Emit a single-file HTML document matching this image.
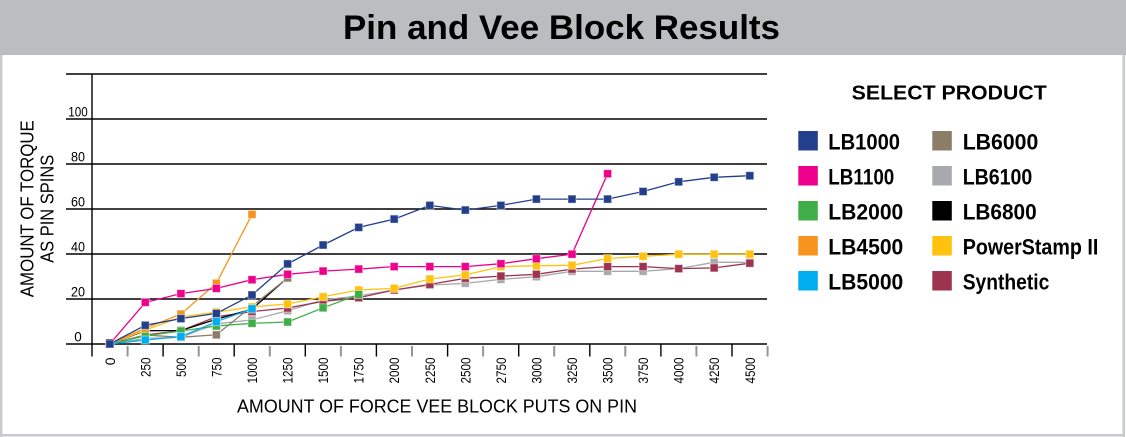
<!DOCTYPE html>
<html>
<head>
<meta charset="utf-8">
<style>
html,body{margin:0;padding:0;background:#fff;}
svg{display:block;}
text{font-family:"Liberation Sans",Arial,sans-serif;fill:#000;}
</style>
</head>
<body>
<svg width="1126" height="437" viewBox="0 0 1126 437" xmlns="http://www.w3.org/2000/svg">
<rect x="0" y="0" width="1126" height="437" fill="#fff"/>
<rect x="0" y="0" width="1126" height="55" fill="#bcbdc0"/>
<rect x="0" y="55" width="2.5" height="382" fill="#c9cacc"/>
<rect x="1122.5" y="55" width="2.5" height="382" fill="#c9cacc"/>
<rect x="0" y="434" width="1125" height="2.5" fill="#c9cacc"/>

<text x="343" y="39" font-size="34" font-weight="bold" textLength="437" lengthAdjust="spacingAndGlyphs">Pin and Vee Block Results</text>

<!-- gridlines -->
<g stroke="#000" stroke-width="1.4">
<line x1="66" y1="74" x2="767" y2="74"/>
<line x1="66" y1="119" x2="767" y2="119"/>
<line x1="66" y1="164" x2="767" y2="164"/>
<line x1="66" y1="209" x2="767" y2="209"/>
<line x1="66" y1="254" x2="767" y2="254"/>
<line x1="66" y1="299" x2="767" y2="299"/>
<line x1="66" y1="344" x2="767" y2="344"/>
<line x1="92" y1="74" x2="92" y2="356.5"/>
<line x1="163.1" y1="344" x2="163.1" y2="356.5"/>
<line x1="234.2" y1="344" x2="234.2" y2="356.5"/>
<line x1="305.3" y1="344" x2="305.3" y2="356.5"/>
<line x1="376.4" y1="344" x2="376.4" y2="356.5"/>
<line x1="447.6" y1="344" x2="447.6" y2="356.5"/>
<line x1="518.7" y1="344" x2="518.7" y2="356.5"/>
<line x1="589.8" y1="344" x2="589.8" y2="356.5"/>
<line x1="660.9" y1="344" x2="660.9" y2="356.5"/>
<line x1="732.0" y1="344" x2="732.0" y2="356.5"/>
</g>
<g stroke="#939598" stroke-width="2">
<line x1="127.6" y1="346" x2="127.6" y2="356.5"/>
<line x1="198.7" y1="346" x2="198.7" y2="356.5"/>
<line x1="269.8" y1="346" x2="269.8" y2="356.5"/>
<line x1="340.9" y1="346" x2="340.9" y2="356.5"/>
<line x1="412.0" y1="346" x2="412.0" y2="356.5"/>
<line x1="483.1" y1="346" x2="483.1" y2="356.5"/>
<line x1="554.2" y1="346" x2="554.2" y2="356.5"/>
<line x1="625.3" y1="346" x2="625.3" y2="356.5"/>
<line x1="696.4" y1="346" x2="696.4" y2="356.5"/>
<line x1="767.6" y1="346" x2="767.6" y2="356.5"/>
</g>

<!-- y tick labels -->
<g font-size="13.5" text-anchor="middle">
<text x="78" y="341.5">0</text>
<text x="78" y="296.5" textLength="14" lengthAdjust="spacingAndGlyphs">20</text>
<text x="78" y="251.5" textLength="14" lengthAdjust="spacingAndGlyphs">40</text>
<text x="78" y="206.5" textLength="14" lengthAdjust="spacingAndGlyphs">60</text>
<text x="78" y="161.5" textLength="14" lengthAdjust="spacingAndGlyphs">80</text>
<text x="78" y="116.5" textLength="19.5" lengthAdjust="spacingAndGlyphs">100</text>
</g>

<!-- x tick labels -->
<g font-size="14" text-anchor="end">
<text transform="translate(114.8,357.5) rotate(-90)">0</text>
<text transform="translate(150.3,357.5) rotate(-90)" textLength="19.5" lengthAdjust="spacingAndGlyphs">250</text>
<text transform="translate(185.9,357.5) rotate(-90)" textLength="19.5" lengthAdjust="spacingAndGlyphs">500</text>
<text transform="translate(221.4,357.5) rotate(-90)" textLength="19.5" lengthAdjust="spacingAndGlyphs">750</text>
<text transform="translate(257.0,357.5) rotate(-90)" textLength="26" lengthAdjust="spacingAndGlyphs">1000</text>
<text transform="translate(292.6,357.5) rotate(-90)" textLength="26" lengthAdjust="spacingAndGlyphs">1250</text>
<text transform="translate(328.1,357.5) rotate(-90)" textLength="26" lengthAdjust="spacingAndGlyphs">1500</text>
<text transform="translate(363.7,357.5) rotate(-90)" textLength="26" lengthAdjust="spacingAndGlyphs">1750</text>
<text transform="translate(399.2,357.5) rotate(-90)" textLength="26" lengthAdjust="spacingAndGlyphs">2000</text>
<text transform="translate(434.8,357.5) rotate(-90)" textLength="26" lengthAdjust="spacingAndGlyphs">2250</text>
<text transform="translate(470.3,357.5) rotate(-90)" textLength="26" lengthAdjust="spacingAndGlyphs">2500</text>
<text transform="translate(505.9,357.5) rotate(-90)" textLength="26" lengthAdjust="spacingAndGlyphs">2750</text>
<text transform="translate(541.4,357.5) rotate(-90)" textLength="26" lengthAdjust="spacingAndGlyphs">3000</text>
<text transform="translate(577.0,357.5) rotate(-90)" textLength="26" lengthAdjust="spacingAndGlyphs">3250</text>
<text transform="translate(612.6,357.5) rotate(-90)" textLength="26" lengthAdjust="spacingAndGlyphs">3500</text>
<text transform="translate(648.1,357.5) rotate(-90)" textLength="26" lengthAdjust="spacingAndGlyphs">3750</text>
<text transform="translate(683.7,357.5) rotate(-90)" textLength="26" lengthAdjust="spacingAndGlyphs">4000</text>
<text transform="translate(719.2,357.5) rotate(-90)" textLength="26" lengthAdjust="spacingAndGlyphs">4250</text>
<text transform="translate(754.8,357.5) rotate(-90)" textLength="26" lengthAdjust="spacingAndGlyphs">4500</text>
</g>

<!-- axis titles -->
<text x="237" y="412.7" font-size="18" textLength="400" lengthAdjust="spacingAndGlyphs">AMOUNT OF FORCE VEE BLOCK PUTS ON PIN</text>
<text transform="translate(33.3,208.7) rotate(-90)" font-size="18" text-anchor="middle" textLength="177" lengthAdjust="spacingAndGlyphs">AMOUNT OF TORQUE</text>
<text transform="translate(53.3,208.8) rotate(-90)" font-size="18" text-anchor="middle" textLength="108" lengthAdjust="spacingAndGlyphs">AS PIN SPINS</text>

<!-- series -->
<polyline fill="none" stroke-width="1.3" stroke="#a7a9ac" points="109.8,344 145.3,338.4 180.9,337.3 216.4,323.8 252.0,319.9 287.6,310.7 323.1,299.9 358.7,295.9 394.2,290.0 429.8,285.1 465.3,283.3 500.9,279.4 536.4,276.7 572.0,271.3 607.6,271.3 643.1,271.3 678.7,268.6 714.2,262.3 749.8,262.3"/>
<g fill="#a7a9ac" stroke="rgba(255,255,255,0.45)" stroke-width="1">
<rect x="105.8" y="340" width="8" height="8"/><rect x="141.3" y="334.4" width="8" height="8"/><rect x="176.9" y="333.3" width="8" height="8"/><rect x="212.4" y="319.8" width="8" height="8"/><rect x="248.0" y="315.9" width="8" height="8"/><rect x="283.6" y="306.7" width="8" height="8"/><rect x="319.1" y="295.9" width="8" height="8"/><rect x="354.7" y="291.9" width="8" height="8"/><rect x="390.2" y="286.0" width="8" height="8"/><rect x="425.8" y="281.1" width="8" height="8"/><rect x="461.3" y="279.3" width="8" height="8"/><rect x="496.9" y="275.4" width="8" height="8"/><rect x="532.4" y="272.7" width="8" height="8"/><rect x="568.0" y="267.3" width="8" height="8"/><rect x="603.6" y="267.3" width="8" height="8"/><rect x="639.1" y="267.3" width="8" height="8"/><rect x="674.7" y="264.6" width="8" height="8"/><rect x="710.2" y="258.3" width="8" height="8"/><rect x="745.8" y="258.3" width="8" height="8"/>
</g>

<!-- Synthetic -->
<polyline fill="none" stroke-width="1.3" stroke="#9c3450" points="109.8,344 145.3,335.0 180.9,330.7 216.4,316.8 252.0,311.6 287.6,308.0 323.1,301.3 358.7,297.7 394.2,290.0 429.8,284.4 465.3,278.3 500.9,276.1 536.4,274.3 572.0,269.1 607.6,266.6 643.1,266.6 678.7,268.6 714.2,267.9 749.8,263.2"/>
<g fill="#9c3450" stroke="rgba(255,255,255,0.45)" stroke-width="1">
<rect x="105.8" y="340" width="8" height="8"/><rect x="141.3" y="331.0" width="8" height="8"/><rect x="176.9" y="326.7" width="8" height="8"/><rect x="212.4" y="312.8" width="8" height="8"/><rect x="248.0" y="307.6" width="8" height="8"/><rect x="283.6" y="304.0" width="8" height="8"/><rect x="319.1" y="297.3" width="8" height="8"/><rect x="354.7" y="293.7" width="8" height="8"/><rect x="390.2" y="286.0" width="8" height="8"/><rect x="425.8" y="280.4" width="8" height="8"/><rect x="461.3" y="274.3" width="8" height="8"/><rect x="496.9" y="272.1" width="8" height="8"/><rect x="532.4" y="270.3" width="8" height="8"/><rect x="568.0" y="265.1" width="8" height="8"/><rect x="603.6" y="262.6" width="8" height="8"/><rect x="639.1" y="262.6" width="8" height="8"/><rect x="674.7" y="264.6" width="8" height="8"/><rect x="710.2" y="263.9" width="8" height="8"/><rect x="745.8" y="259.2" width="8" height="8"/>
</g>

<!-- LB6800 -->
<polyline fill="none" stroke-width="1.3" stroke="#000" points="109.8,344 145.3,330.7 180.9,330.5 216.4,319.3 252.0,309.1 287.6,277.6"/>
<g fill="#000" stroke="rgba(255,255,255,0.45)" stroke-width="1">
<rect x="105.8" y="339" width="8" height="8"/><rect x="141.3" y="326.7" width="8" height="8"/><rect x="176.9" y="326.5" width="8" height="8"/><rect x="212.4" y="315.3" width="8" height="8"/><rect x="248.0" y="305.1" width="8" height="8"/><rect x="283.6" y="273.6" width="8" height="8"/>
</g>

<!-- LB6000 -->
<polyline fill="none" stroke-width="1.3" stroke="#8b7d68" points="109.8,344 145.3,335.0 180.9,337.3 216.4,334.8 287.6,277.9"/>
<g fill="#8b7d68" stroke="rgba(255,255,255,0.45)" stroke-width="1">
<rect x="141.3" y="331.0" width="8" height="8"/><rect x="176.9" y="333.3" width="8" height="8"/><rect x="212.4" y="330.8" width="8" height="8"/><rect x="283.6" y="273.9" width="8" height="8"/>
</g>

<!-- PowerStamp II -->
<polyline fill="none" stroke-width="1.3" stroke="#ffc20e" points="109.8,344 145.3,330.1 180.9,317.0 216.4,312.1 252.0,306.9 287.6,304.0 323.1,296.8 358.7,290.0 394.2,288.4 429.8,279.0 465.3,274.9 500.9,266.6 536.4,265.7 572.0,265.3 607.6,258.5 643.1,256.3 678.7,254.2 714.2,254.2 749.8,254.2"/>
<g fill="#ffc20e" stroke="rgba(255,255,255,0.45)" stroke-width="1">
<rect x="141.3" y="326.1" width="8" height="8"/><rect x="176.9" y="313.0" width="8" height="8"/><rect x="212.4" y="308.1" width="8" height="8"/><rect x="248.0" y="302.9" width="8" height="8"/><rect x="283.6" y="300.0" width="8" height="8"/><rect x="319.1" y="292.8" width="8" height="8"/><rect x="354.7" y="286.0" width="8" height="8"/><rect x="390.2" y="284.4" width="8" height="8"/><rect x="425.8" y="275.0" width="8" height="8"/><rect x="461.3" y="270.9" width="8" height="8"/><rect x="496.9" y="262.6" width="8" height="8"/><rect x="532.4" y="261.7" width="8" height="8"/><rect x="568.0" y="261.3" width="8" height="8"/><rect x="603.6" y="254.5" width="8" height="8"/><rect x="639.1" y="252.3" width="8" height="8"/><rect x="674.7" y="250.2" width="8" height="8"/><rect x="710.2" y="250.2" width="8" height="8"/><rect x="745.8" y="250.2" width="8" height="8"/>
</g>

<!-- LB2000 -->
<polyline fill="none" stroke-width="1.3" stroke="#3fae49" points="109.8,344 145.3,335.9 180.9,331.0 216.4,326.0 252.0,323.3 287.6,322.0 323.1,307.8 358.7,294.5"/>
<g fill="#3fae49" stroke="rgba(255,255,255,0.45)" stroke-width="1">
<rect x="141.3" y="331.9" width="8" height="8"/><rect x="176.9" y="327.0" width="8" height="8"/><rect x="212.4" y="322.0" width="8" height="8"/><rect x="248.0" y="319.3" width="8" height="8"/><rect x="283.6" y="318.0" width="8" height="8"/><rect x="319.1" y="303.8" width="8" height="8"/><rect x="354.7" y="290.5" width="8" height="8"/>
</g>

<!-- LB5000 -->
<polyline fill="none" stroke-width="1.3" stroke="#00aeef" points="109.8,344 145.3,340.0 180.9,336.6 216.4,321.7 252.0,308.7"/>
<g fill="#00aeef" stroke="rgba(255,255,255,0.45)" stroke-width="1">
<rect x="141.3" y="336.0" width="8" height="8"/><rect x="176.9" y="332.6" width="8" height="8"/><rect x="212.4" y="317.7" width="8" height="8"/><rect x="248.0" y="304.7" width="8" height="8"/>
</g>

<!-- LB4500 -->
<polyline fill="none" stroke-width="1.3" stroke="#f7941d" points="109.8,344 145.3,328.3 180.9,314.1 216.4,283.3 252.0,214.4"/>
<g fill="#f7941d" stroke="rgba(255,255,255,0.45)" stroke-width="1">
<rect x="141.3" y="324.3" width="8" height="8"/><rect x="176.9" y="310.1" width="8" height="8"/><rect x="212.4" y="279.3" width="8" height="8"/><rect x="248.0" y="210.4" width="8" height="8"/>
</g>

<!-- LB1100 -->
<polyline fill="none" stroke-width="1.3" stroke="#ec008c" points="109.8,344 145.3,302.4 180.9,293.6 216.4,288.4 252.0,279.7 287.6,274.3 323.1,271.1 358.7,269.1 394.2,266.6 429.8,266.6 465.3,266.6 500.9,263.7 536.4,258.7 572.0,254.2 607.6,173.7"/>
<g fill="#ec008c" stroke="rgba(255,255,255,0.45)" stroke-width="1">
<rect x="141.3" y="298.4" width="8" height="8"/><rect x="176.9" y="289.6" width="8" height="8"/><rect x="212.4" y="284.4" width="8" height="8"/><rect x="248.0" y="275.7" width="8" height="8"/><rect x="283.6" y="270.3" width="8" height="8"/><rect x="319.1" y="267.1" width="8" height="8"/><rect x="354.7" y="265.1" width="8" height="8"/><rect x="390.2" y="262.6" width="8" height="8"/><rect x="425.8" y="262.6" width="8" height="8"/><rect x="461.3" y="262.6" width="8" height="8"/><rect x="496.9" y="259.7" width="8" height="8"/><rect x="532.4" y="254.7" width="8" height="8"/><rect x="568.0" y="250.2" width="8" height="8"/><rect x="603.6" y="169.7" width="8" height="8"/>
</g>

<!-- LB1000 -->
<polyline fill="none" stroke-width="1.3" stroke="#233e8b" points="109.8,344 145.3,325.3 180.9,318.6 216.4,313.4 252.0,295.0 287.6,263.9 323.1,245.0 358.7,227.4 394.2,219.1 429.8,205.4 465.3,210.1 500.9,205.4 536.4,199.1 572.0,199.1 607.6,199.1 643.1,191.5 678.7,181.8 714.2,177.3 749.8,175.7"/>
<g fill="#233e8b" stroke="rgba(255,255,255,0.45)" stroke-width="1">
<rect x="105.8" y="340" width="8" height="8"/><rect x="141.3" y="321.3" width="8" height="8"/><rect x="176.9" y="314.6" width="8" height="8"/><rect x="212.4" y="309.4" width="8" height="8"/><rect x="248.0" y="291.0" width="8" height="8"/><rect x="283.6" y="259.9" width="8" height="8"/><rect x="319.1" y="241.0" width="8" height="8"/><rect x="354.7" y="223.4" width="8" height="8"/><rect x="390.2" y="215.1" width="8" height="8"/><rect x="425.8" y="201.4" width="8" height="8"/><rect x="461.3" y="206.1" width="8" height="8"/><rect x="496.9" y="201.4" width="8" height="8"/><rect x="532.4" y="195.1" width="8" height="8"/><rect x="568.0" y="195.1" width="8" height="8"/><rect x="603.6" y="195.1" width="8" height="8"/><rect x="639.1" y="187.5" width="8" height="8"/><rect x="674.7" y="177.8" width="8" height="8"/><rect x="710.2" y="173.3" width="8" height="8"/><rect x="745.8" y="171.7" width="8" height="8"/>
</g>

<!-- legend -->
<text x="851.7" y="99.3" font-size="20" font-weight="bold" textLength="195" lengthAdjust="spacingAndGlyphs">SELECT PRODUCT</text>

<rect x="798.3" y="131" width="19.5" height="19.5" fill="#233e8b"/>
<rect x="798.3" y="166" width="19.5" height="19.5" fill="#ec008c"/>
<rect x="798.3" y="201" width="19.5" height="19.5" fill="#3fae49"/>
<rect x="798.3" y="236" width="19.5" height="19.5" fill="#f7941d"/>
<rect x="798.3" y="271" width="19.5" height="19.5" fill="#00aeef"/>
<rect x="932.3" y="131" width="19.5" height="19.5" fill="#8b7d68"/>
<rect x="932.3" y="166" width="19.5" height="19.5" fill="#a7a9ac"/>
<rect x="932.3" y="201" width="19.5" height="19.5" fill="#000"/>
<rect x="932.3" y="236" width="19.5" height="19.5" fill="#ffc20e"/>
<rect x="932.3" y="271" width="19.5" height="19.5" fill="#9c3450"/>

<g font-size="22" font-weight="bold">
<text x="828.3" y="149.5" textLength="71.7" lengthAdjust="spacingAndGlyphs">LB1000</text>
<text x="828.3" y="184.5" textLength="66" lengthAdjust="spacingAndGlyphs">LB1100</text>
<text x="828.3" y="219.5" textLength="75" lengthAdjust="spacingAndGlyphs">LB2000</text>
<text x="828.3" y="254.5" textLength="75" lengthAdjust="spacingAndGlyphs">LB4500</text>
<text x="828.3" y="289.5" textLength="75" lengthAdjust="spacingAndGlyphs">LB5000</text>
<text x="962.7" y="149.5" textLength="75.6" lengthAdjust="spacingAndGlyphs">LB6000</text>
<text x="962.7" y="184.5" textLength="69.6" lengthAdjust="spacingAndGlyphs">LB6100</text>
<text x="962.7" y="219.5" textLength="74" lengthAdjust="spacingAndGlyphs">LB6800</text>
<text x="962.7" y="254.5" textLength="135.6" lengthAdjust="spacingAndGlyphs">PowerStamp II</text>
<text x="962.7" y="289.5" textLength="86.6" lengthAdjust="spacingAndGlyphs">Synthetic</text>
</g>
</svg>
</body>
</html>
